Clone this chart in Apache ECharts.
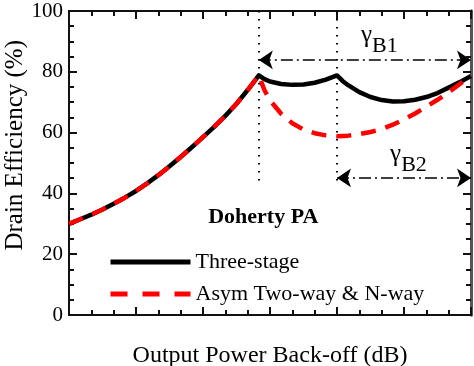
<!DOCTYPE html>
<html>
<head>
<meta charset="utf-8">
<style>
  html, body { margin: 0; padding: 0; background: #fff; }
  #chart { width: 474px; height: 366px; }
</style>
<script src="https://cdn.jsdelivr.net/npm/echarts@6/dist/echarts.min.js"></script>
</head>
<body>
<div id="chart"></div>
<script>
// back-off positions (dB from the low-power end of the axis)
const xThree = [0, 0.5, 1, 1.5, 2, 2.5, 3, 3.5, 4, 4.5, 5, 5.5, 6, 6.5, 7, 7.5, 8, 8.5,
  8.75, 9, 9.5, 10, 10.5, 11, 11.5, 12,
  12.25, 12.5, 13, 13.5, 14, 14.5, 15, 15.5, 16, 16.5, 17, 17.5, 18];
const threeStage = [30, 31.5, 33, 34.7, 36.6, 38.6, 40.8, 43.3, 46, 48.9, 52, 55.2, 58.5, 61.9, 65.5, 69.5, 74, 78.8,
  77.6, 76.8, 76, 75.7, 75.8, 76.4, 77.4, 78.8,
  77, 75.6, 73.3, 71.7, 70.7, 70.2, 70.3, 70.8, 71.7, 73, 74.8, 76.6, 78.6];

const xAsym = [0, 0.5, 1, 1.5, 2, 2.5, 3, 3.5, 4, 4.5, 5, 5.5, 6, 6.5, 7, 7.5, 8, 8.5,
  8.75, 9, 9.5, 10, 10.5, 11, 11.5, 12,
  12.5, 13, 13.5, 14, 14.5, 15, 15.5, 16, 16.5, 17, 17.5, 18];
const asymTwoWay = [30, 31.5, 33, 34.7, 36.6, 38.6, 40.8, 43.3, 46, 48.9, 52, 55.2, 58.5, 61.9, 65.5, 69.5, 74, 78.8,
  74, 70.6, 66.2, 63.1, 61, 59.8, 59.1, 58.8,
  59, 59.5, 60.2, 61.2, 62.6, 64.3, 66.3, 68.5, 70.8, 73.3, 76, 78.6];

const yTicks = [0, 20, 40, 60, 80, 100];
const transitions = [8.5, 12];   // dotted guide lines
const guideBottom = 44;
const gammaB1 = { from: 8.5, to: 18, y: 83.9 };
const gammaB2 = { from: 12, to: 18, y: 45.1 };

const serif = '"Liberation Serif", "DejaVu Serif", serif';
const ink = '#111';

const chart = echarts.init(document.getElementById('chart'));

function pairs(xs, ys) {
  return xs.map((x, i) => [x, ys[i]]);
}

// one axis per side for the long ticks and one for the short ones
// (negative length = ticks pointing into the plot)
function xAx(pos, step, len, extra) {
  return Object.assign({
    type: 'value', min: 0, max: 18, interval: step, position: pos,
    axisLine: { show: true, onZero: false, lineStyle: { color: ink, width: 2 } },
    axisTick: { show: true, inside: false, length: -len, lineStyle: { color: ink, width: 2 } },
    axisLabel: { show: false },
    splitLine: { show: false }
  }, extra || {});
}
function yAx(pos, step, len, extra) {
  return Object.assign({
    type: 'value', min: 0, max: 100, interval: step, position: pos,
    axisLine: { show: true, onZero: false, lineStyle: { color: pos === 'right' ? '#555' : ink, width: pos === 'right' ? 3 : 2 } },
    axisTick: { show: true, inside: false, length: -len, lineStyle: { color: ink, width: 2 } },
    axisLabel: { show: false },
    splitLine: { show: false }
  }, extra || {});
}

const option = {
  animation: false,
  grid: { left: 69, right: 3, top: 11, bottom: 51, containLabel: false, outerBoundsMode: 'none' },
  legend: {
    orient: 'vertical',
    left: 103,
    top: 245,
    itemWidth: 80,
    itemHeight: 14,
    itemGap: 8,
    itemStyle: { opacity: 0 },
    textStyle: { fontFamily: serif, fontSize: 22, color: '#000', lineHeight: 24 },
    data: [
      { name: 'Three-stage', lineStyle: { width: 5, color: '#000' } },
      { name: 'Asym Two-way & N-way', lineStyle: { width: 5, color: '#ff0000', type: [17, 15] } }
    ]
  },
  xAxis: [
    xAx('bottom', 3, 8, {
      name: 'Output Power Back-off (dB)',
      nameLocation: 'middle', nameGap: 29,
      nameTextStyle: { fontFamily: serif, fontSize: 24, color: '#000' }
    }),
    xAx('bottom', 1, 5),
    xAx('top', 3, 8),
    xAx('top', 1, 5)
  ],
  yAxis: [
    yAx('left', 20, 8, {
      axisLabel: { show: true, fontFamily: serif, fontSize: 21, color: '#000', margin: 6,
        formatter: v => (yTicks.indexOf(v) >= 0 ? String(v) : '') }
    }),
    yAx('left', 5, 5),
    yAx('right', 20, 8),
    yAx('right', 5, 5)
  ],
  graphic: [{
    type: 'text',
    left: 3, top: 40,
    rotation: Math.PI / 2,
    style: {
      text: 'Drain Efficiency (%)',
      font: '25px ' + serif,
      fill: '#000'
    }
  }],
  series: [{
    name: 'Three-stage',
    type: 'line',
    data: pairs(xThree, threeStage),
    symbol: 'none',
    color: '#000',
    lineStyle: { color: '#000', width: 4.5, join: 'round' },
    z: 3
  }, {
    name: 'Asym Two-way & N-way',
    type: 'line',
    data: pairs(xAsym, asymTwoWay),
    symbol: 'none',
    color: '#ff0000',
    lineStyle: { color: '#ff0000', width: 4.5, type: [15, 10] },
    z: 4
  }, {
    // annotations
    type: 'line',
    data: [],
    silent: true,
    markLine: {
      silent: true,
      symbol: 'none',
      label: { show: false },
      lineStyle: { color: '#000', width: 2, type: [1.5, 6.5] },
      data: transitions.map(x => [{ coord: [x, 100] }, { coord: [x, guideBottom] }])
    },
    markPoint: {
      silent: true,
      symbol: 'circle',
      symbolSize: 0,
      label: {
        show: true,
        color: '#000',
        fontFamily: serif,
        fontSize: 22,
        rich: {
          g: { fontFamily: serif, fontSize: 25, color: '#000', padding: [0, 0, 8, 0] },
          s: { fontFamily: serif, fontSize: 22, color: '#000', padding: [13, 0, 0, 0] }
        }
      },
      data: [
        { coord: [13.9, 90.5], label: { formatter: '{g|γ}{s|B1}' } },
        { coord: [15.2, 51.5], label: { formatter: '{g|γ}{s|B2}' } },
        { coord: [8.7, 32.2], label: { formatter: 'Doherty PA', fontWeight: 'bold', fontSize: 22 } }
      ]
    }
  }, {
    type: 'line',
    data: [],
    silent: true,
    markLine: {
      silent: true,
      symbol: ['arrow', 'arrow'],
      symbolSize: 14,
      label: { show: false },
      lineStyle: { color: '#000', width: 1.5, type: [12, 4, 2, 4] },
      itemStyle: { color: '#000' },
      data: [gammaB1, gammaB2].map(a => [{ coord: [a.from, a.y] }, { coord: [a.to, a.y] }])
    }
  }]
};

chart.setOption(option);
</script>
</body>
</html>
